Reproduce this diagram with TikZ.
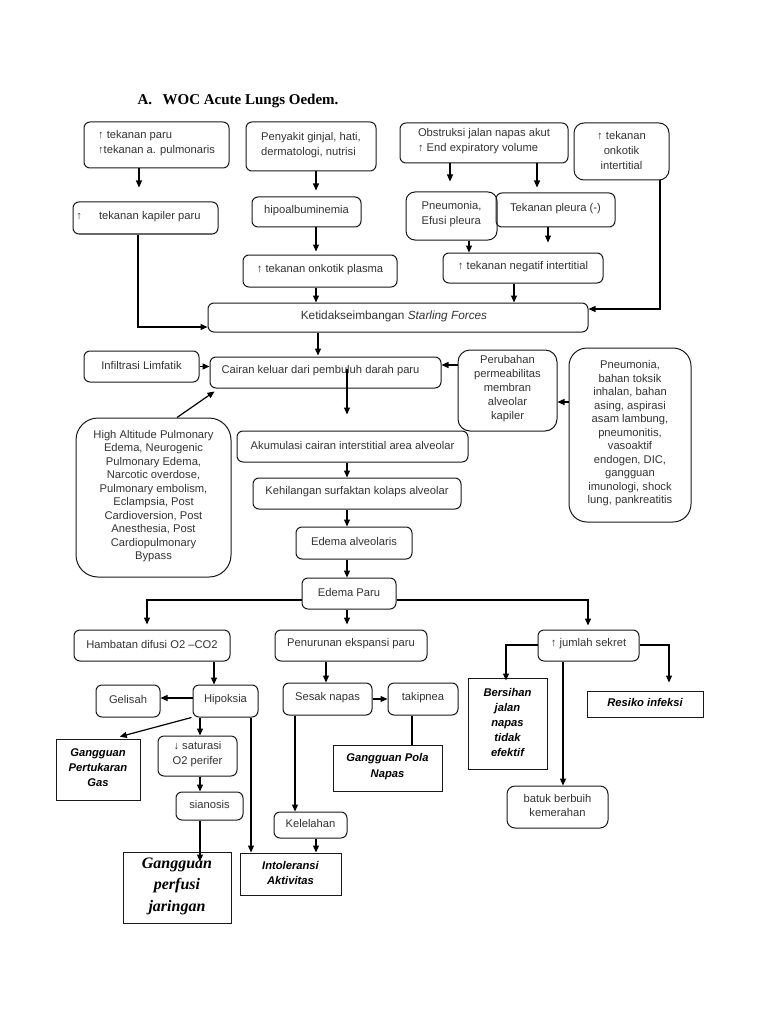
\documentclass[tikz,border=0pt]{standalone}
\usepackage{fontspec}
\setmainfont{Liberation Sans}
\newfontfamily\serifb{Liberation Serif}
\usetikzlibrary{arrows.meta,calc}
\newcommand\bx[8]{%
 \pgfmathsetmacro\bxw{#4-#2}\pgfmathsetmacro\bxh{#5-#3}%
 \pgfmathsetmacro\bxx{(#2+#4)/2}\pgfmathsetmacro\bxy{(#3+#5)/2}%
 \pgfmathsetmacro\bxt{(#3+#5)/2-1.5}%
 \node[#6, minimum width=\bxw pt, minimum height=\bxh pt] (#1) at (\bxx,\bxy) {};
 \node[txt, #7] (#1-t) at (\bxx,\bxt) {#8};}
\tikzset{
 rb/.style={draw=black!90, line width=1pt, rounded corners=6pt, inner sep=0pt},
 sq/.style={draw=black!90, line width=1pt, inner sep=0pt},
 txt/.style={inner sep=0pt, align=center, text=black!80, font=\fontsize{11.2}{15}\selectfont},
 tl/.style={align=left},
 big/.style={font=\fontsize{11.2}{13.5}\selectfont},
 dt/.style={text=black, font=\fontsize{11.2}{15}\selectfont\bfseries\itshape},
 arr/.style={line width=1.2pt, -{Triangle[length=7pt,width=6pt]}},
 ln/.style={line width=1.2pt},
}
\begin{document}
\begin{tikzpicture}[x=1pt,y=-1pt]
\useasboundingbox[fill=white] (0,0) rectangle (768,1024);
\node[anchor=west, font=\serifb\fontsize{15}{18}\selectfont\bfseries] (title) at (134,101) {A.\hspace{0.7em}WOC Acute Lungs Oedem.};
% top row
\bx{A}{84}{122}{229}{168}{rb}{tl}{↑ tekanan paru\\↑tekanan a. pulmonaris}
\bx{B}{246}{122}{376}{171}{rb}{tl}{Penyakit ginjal, hati,\\dermatologi, nutrisi}
\bx{C}{400}{123}{568}{163}{rb}{tl}{Obstruksi jalan napas akut\\↑ End expiratory volume}
\bx{D}{574}{123}{669}{180}{rb, rounded corners=10pt}{}{↑ tekanan\\onkotik\\intertitial}
\bx{kap}{73}{202}{218}{234}{rb}{xshift=-7pt}{↑\hspace{17pt}tekanan kapiler paru}
\bx{hipo}{252}{197}{361}{227}{rb}{}{hipoalbuminemia}
\bx{onk}{243}{255}{397}{287}{rb}{}{↑ tekanan onkotik plasma}
\bx{pne}{406}{192}{497}{240}{rb, rounded corners=9pt}{tl}{Pneumonia,\\Efusi pleura}
\bx{tpl}{496}{193}{615}{227}{rb}{}{Tekanan pleura (-)}
\bx{neg}{443}{253}{603}{283}{rb}{}{↑ tekanan negatif intertitial}
\bx{star}{208}{303}{588}{332}{rb}{xshift=-4pt, font=\fontsize{11.8}{15}\selectfont}{Ketidakseimbangan \textit{Starling Forces}}
% middle
\bx{inf}{84}{351}{199}{382}{rb}{}{Infiltrasi Limfatik}
\bx{cair}{210}{357}{441}{388}{rb}{xshift=-5pt}{Cairan keluar dari pembuluh darah paru}
\bx{perm}{458}{350}{557}{431}{rb, rounded corners=12pt}{font=\fontsize{11.2}{14}\selectfont}{Perubahan\\permeabilitas\\membran\\alveolar\\kapiler}
\bx{E}{569}{348}{691}{522}{rb, rounded corners=18pt}{big}{Pneumonia,\\bahan toksik\\inhalan, bahan\\asing, aspirasi\\asam lambung,\\pneumonitis,\\vasoaktif\\endogen, DIC,\\gangguan\\imunologi, shock\\lung, pankreatitis}
\bx{HA}{76}{418}{231}{577}{rb, rounded corners=22pt}{big}{High Altitude Pulmonary\\Edema, Neurogenic\\Pulmonary Edema,\\Narcotic overdose,\\Pulmonary embolism,\\Eclampsia, Post\\Cardioversion, Post\\Anesthesia, Post\\Cardiopulmonary\\Bypass}
\bx{akum}{237}{431}{468}{462}{rb}{}{Akumulasi cairan interstitial area alveolar}
\bx{keh}{253}{478}{461}{509}{rb}{}{Kehilangan surfaktan kolaps alveolar}
\bx{edal}{296}{527}{412}{559}{rb}{}{Edema alveolaris}
\bx{edp}{302}{578}{396}{609}{rb}{}{Edema Paru}
% bottom
\bx{ham}{74}{630}{230}{661}{rb}{}{Hambatan difusi O2 –CO2}
\bx{pen}{275}{630}{427}{661}{rb}{}{Penurunan ekspansi paru}
\bx{jum}{538}{630}{639}{661}{rb}{}{↑ jumlah sekret}
\bx{hip}{193}{685}{258}{717}{rb}{}{Hipoksia}
\bx{gel}{96}{685}{160}{717}{rb}{}{Gelisah}
\bx{gpg}{56}{739}{140}{800}{sq}{dt}{Gangguan\\Pertukaran\\Gas}
\bx{sat}{158}{736}{237}{776}{rb}{}{↓ saturasi\\O2 perifer}
\bx{sia}{176}{792}{243}{820}{rb}{}{sianosis}
\bx{gpj}{123}{852}{231}{923}{sq}{dt, font=\serifb\fontsize{16}{21.5}\selectfont\bfseries\itshape}{Gangguan\\perfusi\\jaringan}
\bx{into}{240}{853}{341}{895}{sq}{dt}{Intoleransi\\Aktivitas}
\bx{kel}{274}{812}{347}{838}{rb}{}{Kelelahan}
\bx{ses}{283}{683}{372}{715}{rb}{}{Sesak napas}
\bx{tak}{388}{683}{458}{715}{rb}{}{takipnea}
\bx{gpn}{333}{745}{442}{791}{sq}{dt, font=\fontsize{11.2}{16}\selectfont\bfseries\itshape}{Gangguan Pola\\Napas}
\bx{ber}{468}{678}{547}{769}{sq}{dt}{Bersihan\\jalan\\napas\\tidak\\efektif}
\bx{res}{587}{691}{703}{717}{sq}{dt}{Resiko infeksi}
\bx{bat}{507}{786}{608}{828}{rb, rounded corners=8pt}{font=\fontsize{11.2}{14.5}\selectfont}{batuk berbuih\\kemerahan}
% connectors top
\draw[arr, shorten >=14pt] (A.south -| 139,0) -- (kap.north -| 139,0);
\draw[arr] (kap.south -| 138,0) |- ([yshift=-9.5pt]star.west);
\draw[arr, shorten >=6pt] (B.south -| 316,0) -- (hipo.north -| 316,0);
\draw[arr, shorten >=3pt] (hipo.south -| 316,0) -- (onk.north -| 316,0);
\draw[arr] (onk.south -| 316,0) -- (star.north -| 316,0);
\draw[arr, shorten >=10pt] (C.south -| 450,0) -- (pne.north -| 450,0);
\draw[arr, shorten >=5pt] (C.south -| 537,0) -- (tpl.north -| 537,0);
\draw[arr] (pne.south -| 469,0) -- (neg.north -| 469,0);
\draw[arr, shorten >=10pt] (tpl.south -| 548,0) -- (neg.north -| 548,0);
\draw[arr] (neg.south -| 514,0) -- (star.north -| 514,0);
\draw[arr] (D.south -| 660,0) |- ([yshift=8.5pt]star.east);
% middle
\draw[arr, shorten >=1pt] (star.south -| 318,0) -- (cair.north -| 318,0);
\draw[arr] (inf.east) -- (cair.west |- inf.east);
\draw[arr] (perm.west |- 0,365) -- (cair.east |- 0,365);
\draw[arr] (E.west |- 0,402) -- (perm.east |- 0,402);
\draw[arr] (HA.north -| 177,0) -- ([xshift=5pt,yshift=-3pt]cair.south west);
\draw[arr, shorten <=-20pt, shorten >=16pt] (cair.south -| 347,0) -- (akum.north -| 347,0);
\draw[arr] (akum.south -| 347,0) -- (keh.north -| 347,0);
\draw[arr] (keh.south -| 347,0) -- (edal.north -| 347,0);
\draw[arr] (edal.south -| 347,0) -- (edp.north -| 347,0);
% bottom
\draw[arr, shorten >=5pt] (edp.west |- 0,600) -| (ham.north -| 147,0);
\draw[arr, shorten >=5pt] (edp.south -| 347,0) -- (pen.north -| 347,0);
\draw[arr, shorten >=4pt] (edp.east |- 0,600) -| (jum.north -| 588,0);
\draw[arr] (ham.south -| 214,0) -- (hip.north -| 214,0);
\draw[arr] (hip.west |- 0,698) -- (gel.east |- 0,698);
\draw[arr, shorten >=7pt] ([xshift=-1pt]hip.south west) -- (gpg.north -| 113,0);
\draw[arr] (hip.south -| 200,0) -- (sat.north -| 200,0);
\draw[arr] (sat.south -| 200,0) -- (sia.north -| 200,0);
\draw[arr, shorten >=-10pt] (sia.south -| 200,0) -- (gpj.north -| 200,0);
\draw[arr] (hip.south -| 251,0) -- (into.north -| 251,0);
\draw[arr] (pen.south -| 326,0) -- (ses.north -| 326,0);
\draw[arr] (ses.east |- 0,699) -- (tak.west |- 0,699);
\draw[ln] (tak.south -| 412,0) -- (gpn.north -| 412,0);
\draw[arr] (ses.south -| 295,0) -- (kel.north -| 295,0);
\draw[arr] (kel.south -| 316,0) -- (into.north -| 316,0);
\draw[arr, shorten >=-3pt] (jum.west |- 0,645) -| (ber.north -| 506,0);
\draw[arr, shorten >=8pt] (jum.east |- 0,645) -| (res.north -| 669,0);
\draw[arr] (jum.south -| 563,0) -- (bat.north -| 563,0);
\end{tikzpicture}
\end{document}
